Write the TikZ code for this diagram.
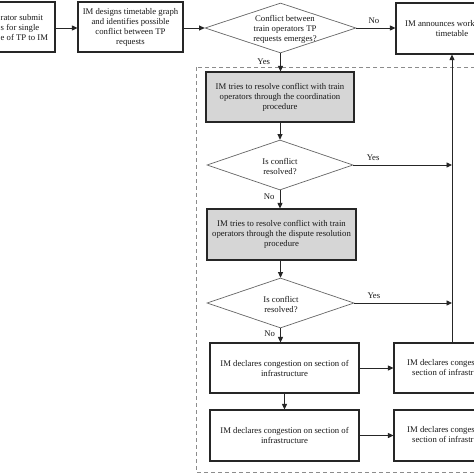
\documentclass[tikz,border=0pt]{standalone}
\usepackage{fontspec}
\setmainfont{Liberation Serif}
\usetikzlibrary{arrows.meta,shapes.geometric}
\begin{document}
\begin{tikzpicture}[x=1pt,y=-1pt,
  box/.style={draw=black!85,line width=1.1pt,fill=white,inner sep=0pt,
    font=\fontsize{8.7}{10}\selectfont,align=center,text=black!90},
  gbox/.style={box,fill=black!16},
  dia/.style={draw=black!60,line width=0.7pt,shape=diamond,inner sep=0pt,fill=white},
  txt/.style={font=\fontsize{8.7}{10}\selectfont,align=center,inner sep=0pt,text=black!90},
  arr/.style={-{Triangle[length=5.5pt,width=5pt]},line width=0.9pt,draw=black!85},
  lbl/.style={font=\fontsize{8.7}{10}\selectfont,inner sep=0pt,text=black!90}]
\useasboundingbox (0,0) rectangle (474,474);
\fill[white] (0,0) rectangle (474,474);
\clip (0,0) rectangle (474,474);

% dashed frame
\draw[draw=black!45,line width=0.8pt,dash pattern=on 4pt off 3pt] (196,67) rectangle (480,472);

% top row
\node[box,minimum width=105pt,minimum height=50pt] (b1) at (2.5,27) {};
\node[txt,anchor=mid west] (t1a) at (0.5,18) {rator submit};
\node[txt,anchor=mid west] (t1b) at (0.5,28) {s for single};
\node[txt,anchor=mid west] (t1c) at (0.5,38) {e of TP to IM};

\node[box,minimum width=105pt,minimum height=50pt] (b2) at (130.5,27)
  {IM designs timetable graph\\and identifies possible\\conflict between TP\\requests};

\node[dia,minimum width=151pt,minimum height=50pt] (d1) at (280.5,28) {};
\node[txt] (d1t) at (285,29) {Conflict between\\train operators TP\\requests emerges?};

\node[box,minimum width=112pt,minimum height=51pt] (ann) at (452,28.5) {};
\node[txt,anchor=mid west] (annA) at (405,24) {IM announces work};
\node[txt] (annB) at (452,34) {timetable};

% inner flow
\node[gbox,minimum width=148pt,minimum height=50pt] (gA) at (280,97)
  {IM tries to resolve conflict with train\\operators through the coordination\\procedure};
\node[dia,minimum width=146pt,minimum height=50pt] (d2) at (280,165) {};
\node[txt] (d2t) at (280,166) {Is conflict\\resolved?};

\node[gbox,minimum width=149pt,minimum height=51pt] (gB) at (281.5,234.5)
  {IM tries to resolve conflict with train\\operators through the dispute resolution\\procedure};
\node[dia,minimum width=147pt,minimum height=50pt] (d3) at (280.5,303) {};
\node[txt] (d3t) at (281,304) {Is conflict\\resolved?};

\node[box,minimum width=149pt,minimum height=50pt] (b5) at (284.5,368)
  {IM declares congestion on section of\\infrastructure};
\node[box,minimum width=116pt,minimum height=50pt] (b6) at (452,368) {};
\node[txt,anchor=mid west] (b6a) at (407,363) {IM declares conges};
\node[txt,anchor=mid west] (b6b) at (412,373) {section of infrastr};

\node[box,minimum width=149pt,minimum height=51pt] (b7) at (284.5,435.5)
  {IM declares congestion on section of\\infrastructure};
\node[box,minimum width=116pt,minimum height=51pt] (b8) at (452,435.5) {};
\node[txt,anchor=mid west] (b8a) at (407,430) {IM declares conges};
\node[txt,anchor=mid west] (b8b) at (412,440) {section of infrastr};

% connectors
\draw[arr] (b1.east |- 0,28) -- (b2.west |- 0,28);
\draw[arr] (b2.east |- 0,28) -- (d1.west);
\draw[arr] (d1.east) -- (ann.west |- d1.east) node[lbl,pos=0.45,above=4pt] (no1) {No};
\draw[arr] (d1.south) -- (gA.north -| d1.south) node[lbl,pos=0.45,left=10pt] (yes1) {Yes};
\draw[arr] (gA.south) -- (d2.north);
\draw[arr] (d2.east) -- (d2.east -| b6.north) node[lbl,pos=0.2,above=4pt] (yes2) {Yes};
\draw[arr] (d2.south) -- (gB.north -| d2.south) node[lbl,pos=0.35,left=5pt] (no2) {No};
\draw[arr] (gB.south -| d3.north) -- (d3.north);
\draw[arr] (d3.east) -- (d3.east -| b6.north) node[lbl,pos=0.2,above=4pt] (yes3) {Yes};
\draw[arr] (d3.south) -- (b5.north -| d3.south) node[lbl,pos=0.35,left=5pt] (no3) {No};
\draw[arr] (b6.north) -- (ann.south);
\draw[arr] (b5.east) -- (b6.west);
\draw[arr] (b5.south) -- (b7.north);
\draw[arr] (b7.east) -- (b8.west);
\end{tikzpicture}
\end{document}
